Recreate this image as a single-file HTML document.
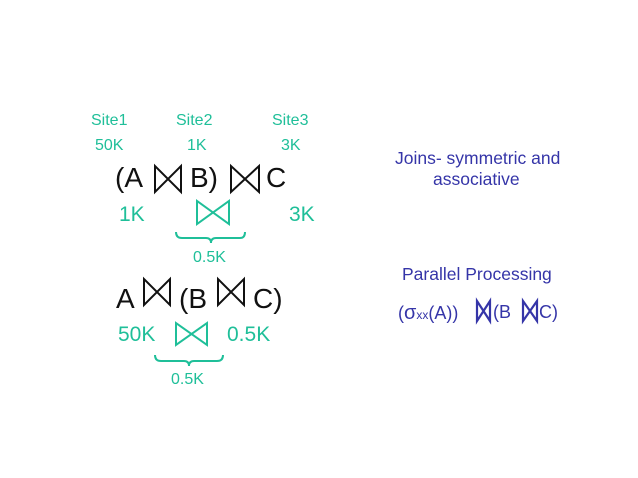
<!DOCTYPE html>
<html><head><style>
body{margin:0;width:638px;height:478px;background:#fff;position:relative;overflow:hidden;font-family:"Liberation Sans",sans-serif}
.t{position:absolute;white-space:nowrap;line-height:1}
.g{color:#1fbf99}
.b{color:#3535a8}
.k{color:#111}
svg{position:absolute;left:0;top:0}
</style></head><body>
<div class="t g" style="left:91px;top:113px;font-size:16px">Site1</div>
<div class="t g" style="left:176px;top:113px;font-size:16px">Site2</div>
<div class="t g" style="left:272px;top:113px;font-size:16px">Site3</div>
<div class="t g" style="left:95px;top:138px;font-size:16px">50K</div>
<div class="t g" style="left:187px;top:138px;font-size:16px">1K</div>
<div class="t g" style="left:281px;top:138px;font-size:16px">3K</div>

<div class="t k" style="left:115px;top:164px;font-size:28px">(A</div>
<div class="t k" style="left:190px;top:164px;font-size:28px">B)</div>
<div class="t k" style="left:266px;top:164px;font-size:28px">C</div>

<div class="t g" style="left:119px;top:204px;font-size:21px">1K</div>
<div class="t g" style="left:289px;top:204px;font-size:21px">3K</div>
<div class="t g" style="left:193px;top:250px;font-size:16px">0.5K</div>

<div class="t k" style="left:116px;top:285px;font-size:28px">A</div>
<div class="t k" style="left:179px;top:285px;font-size:28px">(B</div>
<div class="t k" style="left:253px;top:285px;font-size:28px">C)</div>

<div class="t g" style="left:118px;top:324px;font-size:21px">50K</div>
<div class="t g" style="left:227px;top:324px;font-size:21px">0.5K</div>
<div class="t g" style="left:171px;top:372px;font-size:16px">0.5K</div>

<div class="t b" style="left:395px;top:150px;font-size:17.5px">Joins- symmetric and</div>
<div class="t b" style="left:433px;top:171px;font-size:17.5px">associative</div>
<div class="t b" style="left:402px;top:266px;font-size:17.5px">Parallel Processing</div>
<div class="t b" style="left:398px;top:303px;font-size:18px">(<span style="font-size:20px">σ</span><span style="font-size:12px">xx</span>(A))</div>
<div class="t b" style="left:493px;top:303px;font-size:18px">(B</div>
<div class="t b" style="left:539px;top:303px;font-size:18px">C)</div>

<svg width="638" height="478" fill="none" stroke-linejoin="miter">
<g stroke="#111" stroke-width="2">
<path d="M155 166 L155 192 L181 166 L181 192 Z"/>
<path d="M231 166 L231 192 L259 166 L259 192 Z"/>
<path d="M144 279 L144 305 L170 279 L170 305 Z"/>
<path d="M218 279 L218 305 L244 279 L244 305 Z"/>
</g>
<g stroke="#1fbf99" stroke-width="2">
<path d="M197 201 L197 224 L229 201 L229 224 Z"/>
<path d="M176 323 L176 345 L207 323 L207 345 Z"/>
<path d="M176 232 Q176 238 182 238 L206 238 Q211 238 211 243 Q211 238 216 238 L240 238 Q245 238 245 232"/>
<path d="M155 355 Q155 361 161 361 L184 361 Q189 361 189 366 Q189 361 194 361 L217 361 Q223 361 223 355"/>
</g>
<g stroke="#3535a8" stroke-width="2.2">
<path d="M477 301 L477 321 L490 301 L490 321 Z"/>
<path d="M523 301 L523 321 L537 301 L537 321 Z"/>
</g>
</svg>
</body></html>
